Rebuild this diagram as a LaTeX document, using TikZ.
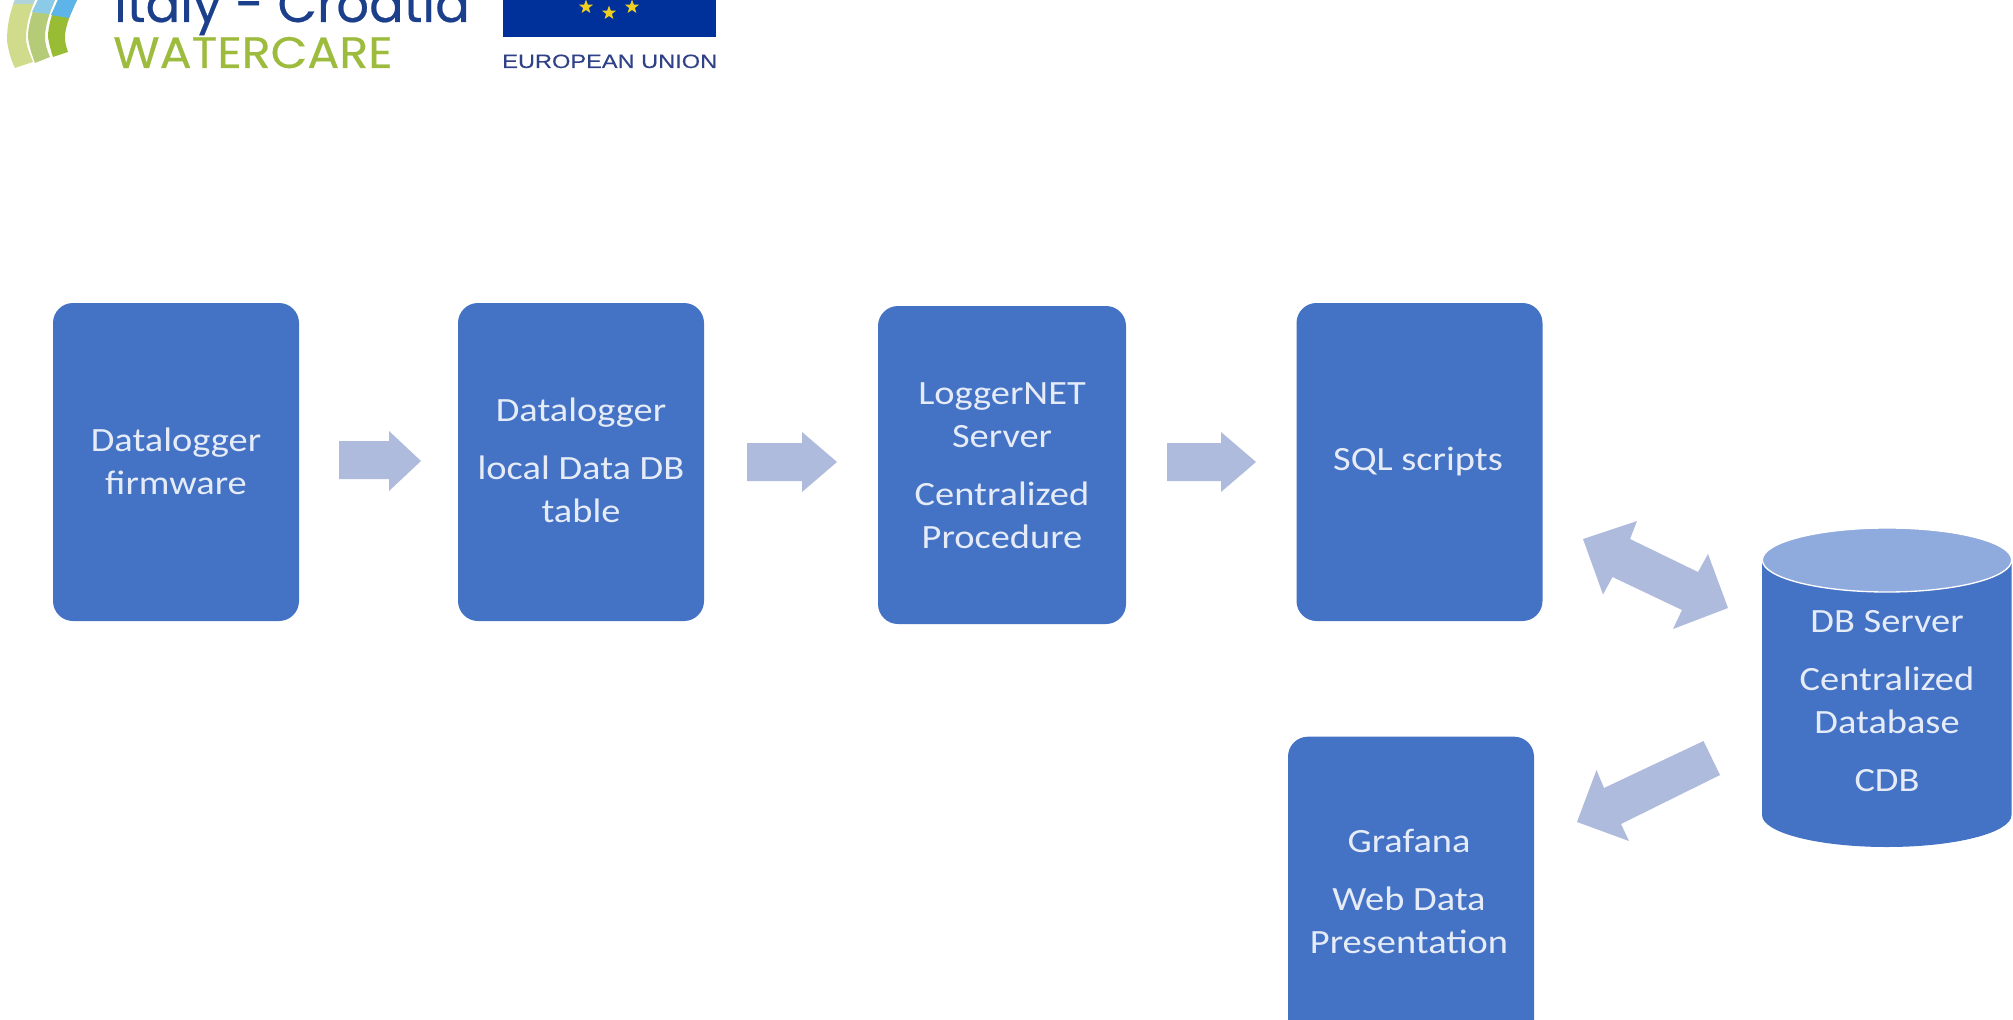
\documentclass[tikz,border=0pt]{standalone}
\usepackage{fontspec}
\setmainfont[FakeStretch=1.13]{Carlito}
\newfontfamily\logofont[FakeBold=0.4]{Poppins}
\newfontfamily\waterfont[FakeStretch=1.08,FakeBold=0.4]{Poppins}
\newfontfamily\eufont[FakeStretch=1.22,FakeBold=0.2]{Liberation Sans}
\usetikzlibrary{shapes.geometric,calc}
\definecolor{boxblue}{HTML}{4472C4}
\definecolor{arrowblue}{HTML}{AEBBDD}
\definecolor{cyltop}{HTML}{8FAADC}
\definecolor{boxtext}{HTML}{E6ECF7}
\definecolor{logoblue}{HTML}{1B3F8B}
\definecolor{logogreen}{HTML}{9DBB3C}
\definecolor{euflag}{HTML}{00309A}
\definecolor{eutext}{HTML}{2F4187}
\definecolor{starcol}{HTML}{EFCF20}
\definecolor{bandA}{HTML}{D0DC8C}
\definecolor{bandB}{HTML}{B6CB78}
\definecolor{bandC}{HTML}{98BC34}
\definecolor{skyA}{HTML}{B0D4DC}
\definecolor{skyB}{HTML}{8CCBE8}
\definecolor{skyC}{HTML}{5CB4E8}
\tikzset{
  x=0.75pt,y=-0.75pt,
  flowbox/.style={rectangle,fill=boxblue,draw=none,rounded corners=15pt,inner sep=0pt,minimum width=184.5pt,minimum height=238.5pt},
  boxlabel/.style={text=boxtext,font=\fontsize{25.5}{32.25}\selectfont,align=center,anchor=center,inner sep=0pt},
  blockarrow/.style={fill=arrowblue,draw=none},
  eustar/.style={star,star points=5,star point ratio=2.4,fill=starcol,draw=none,minimum size=11pt,inner sep=0pt},
}
\begin{document}
\begin{tikzpicture}
\useasboundingbox (0,0) rectangle (2013,1020);
\clip (0,0) rectangle (2013,1020);
% logo bands
\fill[bandA] (15,0) .. controls (9,14) and (7,28) .. (7,40) .. controls (8,50) and (11,60) .. (15,68) -- (33,62) .. controls (29,52) and (26,45) .. (26,38) .. controls (26,25) and (30,12) .. (35,0) -- cycle;
\fill[bandB] (38,0) .. controls (32,12) and (28,25) .. (28,37) .. controls (29,46) and (32,55) .. (35,63) -- (50,57) .. controls (47,50) and (45,44) .. (45,37) .. controls (45,25) and (50,12) .. (55,0) -- cycle;
\fill[bandC] (58,0) .. controls (53,10) and (48,25) .. (48,37) .. controls (49,44) and (51,51) .. (53,57) -- (68,52) .. controls (66,46) and (65,42) .. (65,37) .. controls (65,28) and (70,14) .. (77,0) -- cycle;
\fill[skyA] (15,0) -- (35,0) -- (33,4) -- (13,4) -- cycle;
\fill[skyB] (38,0) -- (55,0) -- (49,14) -- (32,12) -- cycle;
\fill[skyC] (58,0) -- (77,0) -- (69,18) -- (51,15) -- cycle;
\node[anchor=base west,inner sep=0pt,text=logoblue,font=\logofont\fontsize{38.5}{38.5}\selectfont] (italy) at (114,22) {Italy - Croatia};
\node[anchor=base west,inner sep=0pt,text=logogreen,font=\waterfont\fontsize{33}{33}\selectfont] (watercare) at (113,68) {WATERCARE};
\fill[euflag] (503,0) rectangle (716,37);
\node[eustar] (s1) at (586,7) {};
\node[eustar] (s2) at (609,13) {};
\node[eustar] (s3) at (632,7) {};
\node[anchor=base west,inner sep=0pt,text=eutext,font=\eufont\fontsize{14.5}{14.5}\selectfont] (eu) at (502,68) {EUROPEAN UNION};
% boxes
\node[flowbox] (b1) at (176,462) {};
\node[flowbox] (b2) at (581,462) {};
\node[flowbox,minimum width=186pt] (b3) at (1002,465) {};
\node[flowbox] (b4) at (1419.5,462) {};
\node[flowbox,minimum height=260pt] (b5) at (1411,910) {};
% cylinder
\fill[boxblue] (1762,560) -- (1762,815) arc[start angle=180,end angle=0,x radius=124.75,y radius=32] -- (2011.5,560) -- cycle;
\node[ellipse,fill=cyltop,draw=white,line width=1pt,minimum width=187pt,minimum height=48pt,inner sep=0pt] (cyltopface) at (1887,560) {};
% labels
\node[boxlabel] (t1) at (176,461) {Datalogger\\firmware};
\node[boxlabel] (t2) at (581,460) {Datalogger\\[11.25pt]local Data DB\\table};
\node[boxlabel] (t3) at (1002,466) {LoggerNET\\Server\\[11.25pt]Centralized\\Procedure};
\node[boxlabel] (t4) at (1418,462) {SQL scripts};
\node[boxlabel] (t5) at (1887,701) {DB Server\\[11.25pt]Centralized\\Database\\[11.25pt]CDB};
\node[boxlabel] (t6) at (1409,891) {Grafana\\[11.25pt]Web Data\\Presentation};
% arrows
\fill[blockarrow] (339,441) -- (389,441) -- (389,431) -- (421,461) -- (389,491) -- (389,479) -- (339,479) -- cycle;
\fill[blockarrow] (747,443) -- (802,443) -- (802,432) -- (837,462) -- (802,492) -- (802,481) -- (747,481) -- cycle;
\fill[blockarrow] (1167,443) -- (1221,443) -- (1221,432) -- (1256,462) -- (1221,492) -- (1221,481) -- (1167,481) -- cycle;
\fill[blockarrow] (1583,539) -- (1637,521) -- (1630,539) -- (1698,572) -- (1708,554) -- (1728,608) -- (1673,629) -- (1682,610) -- (1612.5,577) -- (1603,594.5) -- cycle;
\fill[blockarrow] (1703.5,741) -- (1720,775) -- (1621,824) -- (1629,841) -- (1577,822) -- (1596.5,770) -- (1604,788) -- cycle;
\end{tikzpicture}
\end{document}
